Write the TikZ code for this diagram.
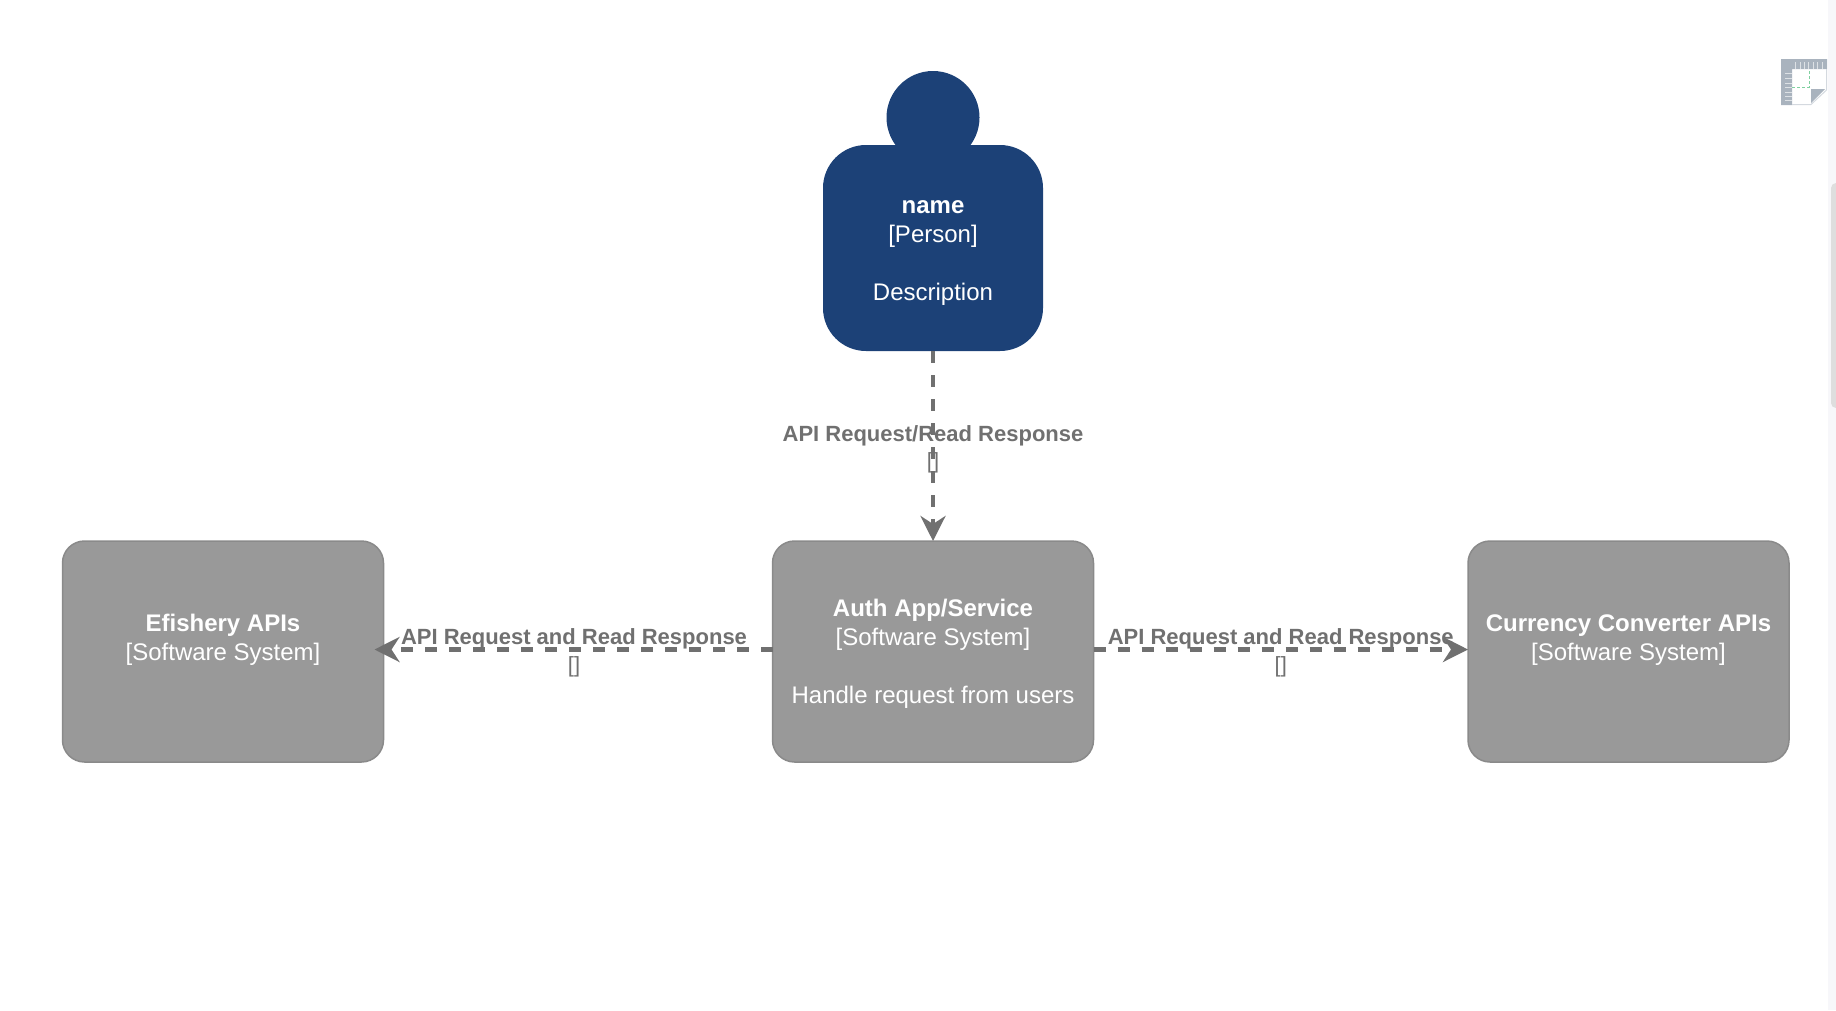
\documentclass[tikz,border=0pt]{standalone}
\usepackage{fontspec}
\setmainfont{Liberation Sans}
\usetikzlibrary{arrows.meta}
\usetikzlibrary{positioning}
\definecolor{personblue}{HTML}{1C4177}
\definecolor{systemgray}{HTML}{999999}
\definecolor{systemedge}{HTML}{8A8A8A}
\definecolor{relgray}{HTML}{707070}
\definecolor{rulergray}{HTML}{A9B3BE}
\definecolor{guidegreen}{HTML}{7FD0A0}
\definecolor{barpale}{HTML}{F7F7FA}
\definecolor{barthumb}{HTML}{DEDEDE}
\newcommand{\textdrop}[1]{\rule{0pt}{#1}}
\tikzset{
    person part/.style={fill=personblue, draw=none, outer sep=0pt},
    person body/.style={person part, rounded corners=43pt, minimum width=220pt, minimum height=206pt,
            align=center, text=white, font=\fontsize{24}{29}\selectfont},
    person head/.style={person part, circle, minimum size=93pt, inner sep=0pt},
    system box/.style={fill=systemgray, draw=systemedge, line width=1.5pt, rounded corners=22pt, outer sep=0pt,
            minimum width=321pt, minimum height=221pt, inner sep=0pt,
            align=center, text=white, font=\fontsize{24}{29}\selectfont},
    rel line/.style={draw=relgray, line width=4.5pt, dash pattern=on 12pt off 12pt,
            -{Stealth[length=25pt, width=25pt, inset=8pt]}},
    rel label/.style={midway, align=center, text=relgray, font=\fontsize{22}{27.5}\selectfont}
}

\begin{document}
\begin{tikzpicture}[x=1pt, y=-1pt]
    \useasboundingbox (0,0) rectangle (1836,1010);
    % side bar
    \fill[barpale] (1828,0) rectangle (1836,1010);
    \fill[barthumb, rounded corners=5pt] (1831,183) rectangle (1842,408);

    \node[person head] (head) at (933,117.5) {};
    \node[person body] (person) at (933,248) {\textdrop{22pt}\textbf{name}\\{[}Person{]}\\ \\Description};
    \node[system box, below = 190pt of person] (auth) {\textdrop{21pt}\textbf{Auth App/Service}\\{[}Software System{]}\\ \\Handle request from users};
    \node[system box, left = 389pt of auth] (efishery) {\textdrop{27pt}\textbf{Efishery APIs}\\{[}Software System{]}\\ \strut};
    \node[system box, right = 374.5pt of auth] (currency) {\textdrop{27pt}\textbf{Currency Converter APIs}\\{[}Software System{]}\\ \strut};

    \draw (person) edge[rel line] node[rel label, yshift=-3.5pt]{\textbf{API Request/Read Response}\\{[}{]}} (auth)
    ([yshift=2pt]auth.west) edge[rel line, shorten >=-9pt] node[rel label, xshift=-4pt, yshift=-3.5pt]{\textbf{API Request and Read Response}\\{[}{]}} ([yshift=2pt]efishery.east)
    ([yshift=2pt]auth.east) edge[rel line] node[rel label, yshift=-3.5pt]{\textbf{API Request and Read Response}\\{[}{]}} ([yshift=2pt]currency.west)
    ;

    % ruler icon
    \fill[rulergray] (1781,59) -- (1827,59) -- (1827,69) -- (1792,69) -- (1792,105) -- (1781,105) -- cycle;
    \draw[rulergray!50, line width=1pt] (1826.5,69) -- (1826.5,90) -- (1811,104.5) -- (1792,104.5);
    \fill[rulergray] (1811,89) -- (1825,89) -- (1811,103) -- cycle;
    \foreach \tickx in {1795,1800,1804,1808,1813,1817,1822}
        \draw[white!60!rulergray, line width=1pt] (\tickx,62) -- (\tickx,69);
    \foreach \ticky in {73,78,83,87,92,96,100}
        \draw[white!60!rulergray, line width=1pt] (1785,\ticky) -- (1792,\ticky);
    \draw[guidegreen, line width=1pt, dash pattern=on 3pt off 2pt] (1792,87) -- (1809,87) -- (1809,70);
\end{tikzpicture}
\end{document}
